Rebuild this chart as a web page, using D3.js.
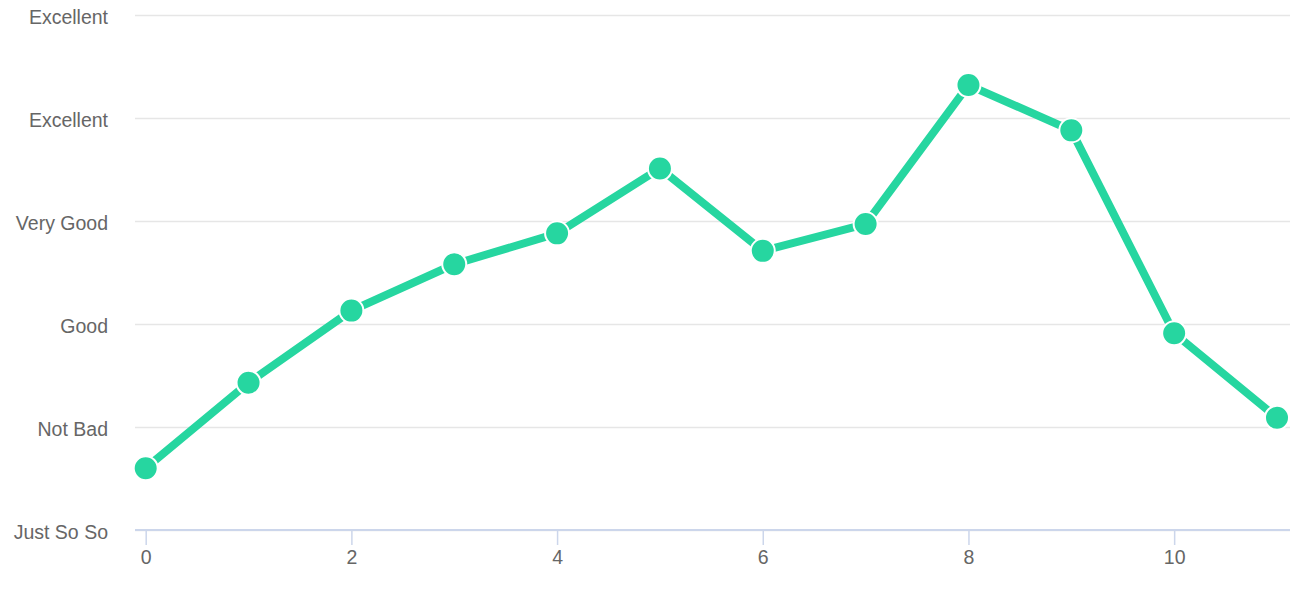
<!DOCTYPE html>
<html>
<head>
<meta charset="utf-8">
<script src="https://cdn.jsdelivr.net/npm/d3@7"></script>
<style>
  html, body { margin: 0; padding: 0; background: #fff; }
  svg { display: block; font-family: "Liberation Sans", Arial, sans-serif; }
</style>
</head>
<body>
<svg width="1302" height="596"></svg>
<script>
// y categories (index = value)
const levels = ["Just So So", "Not Bad", "Good", "Very Good", "Excellent", "Excellent"];
const xValues = [0, 1, 2, 3, 4, 5, 6, 7, 8, 9, 10, 11];
const scores = [0.60, 1.43, 2.13, 2.58, 2.88, 3.51, 2.71, 2.97, 4.32, 3.88, 1.91, 1.09];
const xTicks = [0, 2, 4, 6, 8, 10];

const svg = d3.select("svg");
const plotLeft = 135, plotRight = 1290, plotTop = 15, plotBottom = 530;
const color = "#26d6a0";

const x = d3.scaleLinear().domain([0, 11]).range([145.7, 1277]);
const y = d3.scaleLinear().domain([0, 5]).range([plotBottom, plotTop]);

// grid lines
const grid = svg.append("g")
  .attr("transform", `translate(${plotLeft},0)`)
  .call(d3.axisLeft(y).tickValues(d3.range(levels.length)).tickSize(-(plotRight - plotLeft)).tickFormat(""));
grid.select(".domain").remove();
grid.selectAll("line").attr("stroke", "#e6e6e6").attr("stroke-width", 1.5);

// y labels
const yAxis = svg.append("g")
  .attr("transform", `translate(${plotLeft},0)`)
  .call(d3.axisLeft(y).tickValues(d3.range(levels.length)).tickSize(0).tickPadding(27).tickFormat(i => levels[i]));
yAxis.select(".domain").remove();
yAxis.selectAll("text")
  .attr("dy", "0.46em")
  .style("font-size", "19.5px")
  .attr("fill", "#666");

// x axis
const xAxis = svg.append("g")
  .attr("transform", `translate(0,${plotBottom})`)
  .call(d3.axisBottom(x).tickValues(xTicks).tickSize(15).tickSizeOuter(0).tickPadding(5));
xAxis.select(".domain").remove();
xAxis.selectAll("line").attr("stroke", "#ccd6eb").attr("stroke-width", 1.5);
xAxis.selectAll("text").style("font-size", "19.5px").attr("fill", "#666");

svg.append("line")
  .attr("x1", plotLeft).attr("x2", plotRight)
  .attr("y1", plotBottom).attr("y2", plotBottom)
  .attr("stroke", "#ccd6eb").attr("stroke-width", 2);

// series
const line = d3.line()
  .x((d, i) => x(xValues[i]))
  .y(d => y(d));

svg.append("path")
  .datum(scores)
  .attr("fill", "none")
  .attr("stroke", color)
  .attr("stroke-width", 8)
  .attr("stroke-linejoin", "round")
  .attr("d", line);

svg.selectAll(".dot")
  .data(scores)
  .join("circle")
  .attr("class", "dot")
  .attr("cx", (d, i) => x(xValues[i]))
  .attr("cy", d => y(d))
  .attr("r", 12)
  .attr("fill", color)
  .attr("stroke", "#fff")
  .attr("stroke-width", 2);
</script>
</body>
</html>
